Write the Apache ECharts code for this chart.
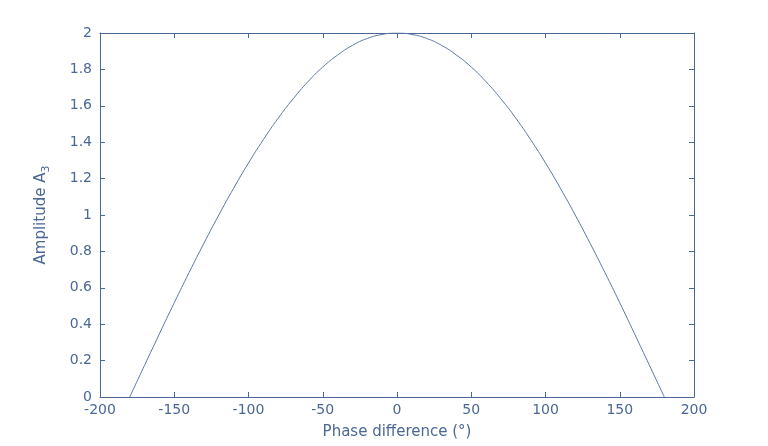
<!DOCTYPE html>
<html><head><meta charset="utf-8">
<script src="https://cdn.jsdelivr.net/npm/echarts@6/dist/echarts.min.js"></script>
<style>html,body{margin:0;padding:0;background:#fff}#c{width:768px;height:446px}</style>
</head><body><div id="c"></div>
<script>
const phase = [-180,-170,-160,-150,-140,-130,-120,-110,-100,-90,-80,-70,-60,-50,-40,-30,-20,-10,0,10,20,30,40,50,60,70,80,90,100,110,120,130,140,150,160,170,180];
const amplitude = [0,0.174,0.347,0.518,0.684,0.845,1.0,1.147,1.286,1.414,1.532,1.638,1.732,1.813,1.879,1.932,1.970,1.992,2,1.992,1.970,1.932,1.879,1.813,1.732,1.638,1.532,1.414,1.286,1.147,1.0,0.845,0.684,0.518,0.347,0.174,0];
const col = '#4a6796';
const font = 'DejaVu Sans';
const axLine = {show:true, onZero:false, lineStyle:{color:col, width:1}};
const tick = {show:true, inside:true, length:5, lineStyle:{color:col}};
const chart = echarts.init(document.getElementById('c'));
chart.setOption({
  animation:false,
  grid:{left:100,right:74,top:33,bottom:49},
  xAxis:[{type:'value',position:'bottom',min:-200,max:200,interval:50,axisLine:axLine,axisTick:tick,splitLine:{show:false},
    axisLabel:{color:col,fontFamily:font,fontSize:14,margin:6},
    name:'Phase difference (°)',nameLocation:'middle',nameGap:28,nameTextStyle:{color:col,fontFamily:font,fontSize:15}},
    {type:'value',position:'top',min:-200,max:200,interval:50,axisLine:axLine,axisTick:tick,axisLabel:{show:false},splitLine:{show:false}}],
  yAxis:[{type:'value',position:'left',min:0,max:2,interval:0.2,axisLine:axLine,axisTick:tick,splitLine:{show:false},
    axisLabel:{color:col,fontFamily:font,fontSize:14,margin:8},
    name:'Amplitude A{s|3}',nameLocation:'middle',nameGap:48,
    nameTextStyle:{color:col,fontFamily:font,fontSize:15,rich:{s:{fontSize:11,verticalAlign:'bottom',color:col,fontFamily:font,padding:[10,0,0,0]}}}},
    {type:'value',position:'right',min:0,max:2,interval:0.2,axisLine:axLine,axisTick:tick,axisLabel:{show:false},splitLine:{show:false}}],
  series:[{type:'line',data:phase.map((p,i)=>[p,amplitude[i]]),smooth:true,showSymbol:false,lineStyle:{color:'#5a78a8',width:1}}]
});
</script></body></html>
